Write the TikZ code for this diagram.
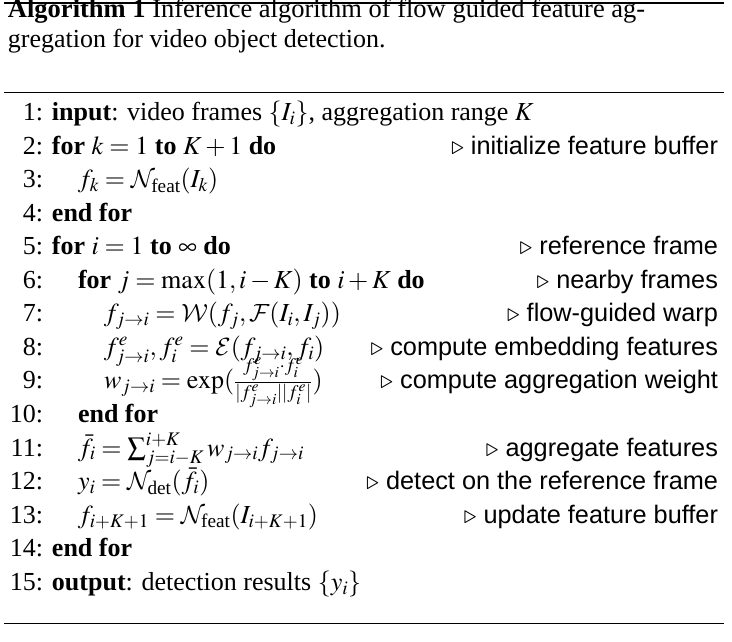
\documentclass[tikz,border=0pt]{standalone}
\usepackage{mathptmx}
\usepackage{amsmath}
\DeclareMathAlphabet{\mathcal}{OMS}{cmsy}{m}{n}
\usepackage[no-math]{fontspec}
\setmainfont{Liberation Serif}
\newfontfamily\cmtfont{Liberation Sans}
\begin{document}
\begin{tikzpicture}[x=1pt,y=-1pt,
  every node/.style={inner sep=0pt,outer sep=0pt,font=\fontsize{26}{30}\selectfont},
  ln/.style={anchor=base east},
  tx/.style={anchor=base west},
  cmt/.style={anchor=base east,font=\fontsize{25.3}{30}\cmtfont}]
\useasboundingbox (0,0) rectangle (732,641);
\draw[line width=1.6pt] (4,3) -- (724,3);
\draw[line width=0.8pt] (4,92) -- (724,92);
\draw[line width=0.8pt] (4,623) -- (724,623);
\node[tx,align=left] (cap) at (8,47) {\fontsize{26.5}{35}\selectfont\textbf{Algorithm 1} Inference algorithm of flow guided feature ag-\\gregation for video object detection.};
\foreach \i in {1,...,15}{\node[ln] (n\i) at (43,{87+33.55*\i}) {\i:};}
\def\Y#1{{87+33.55*#1}}
\node[tx] (t1) at (52,\Y1) {\textbf{input}: video frames $\{I_i\}$, aggregation range $K$};
\node[tx] (t2) at (52,\Y2) {\textbf{for} $k=1$ \textbf{to} $K+1$ \textbf{do}};
\node[cmt] (c2) at (718,\Y2) {$\triangleright$ initialize feature buffer};
\node[tx] (t3) at (78,\Y3) {$f_k=\mathcal{N}_{\text{feat}}(I_k)$};
\node[tx] (t4) at (52,\Y4) {\textbf{end for}};
\node[tx] (t5) at (52,\Y5) {\textbf{for} $i=1$ \textbf{to} $\infty$ \textbf{do}};
\node[cmt] (c5) at (718,\Y5) {$\triangleright$ reference frame};
\node[tx] (t6) at (78,\Y6) {\textbf{for} $j=\max(1,i-K)$ \textbf{to} $i+K$ \textbf{do}};
\node[cmt] (c6) at (718,\Y6) {$\triangleright$ nearby frames};
\node[tx] (t7) at (104,\Y7) {$f_{j\rightarrow i}=\mathcal{W}(f_j,\mathcal{F}(I_i,I_j))$};
\node[cmt] (c7) at (718,\Y7) {$\triangleright$ flow-guided warp};
\node[tx] (t8) at (104,\Y8) {$f^e_{j\rightarrow i},f^e_i=\mathcal{E}(f_{j\rightarrow i},f_i)$};
\node[cmt] (c8) at (718,\Y8) {$\triangleright$ compute embedding features};
\node[tx] (t9) at (104,\Y9) {$w_{j\rightarrow i}=\exp(\frac{f^e_{j\rightarrow i}\cdot f^e_i}{|f^e_{j\rightarrow i}||f^e_i|})$};
\node[cmt] (c9) at (718,\Y9) {$\triangleright$ compute aggregation weight};
\node[tx] (t10) at (78,\Y{10}) {\textbf{end for}};
\node[tx] (t11) at (78,\Y{11}) {$\bar{f}_i=\sum_{j=i-K}^{i+K}w_{j\rightarrow i}f_{j\rightarrow i}$};
\node[cmt] (c11) at (718,\Y{11}) {$\triangleright$ aggregate features};
\node[tx] (t12) at (78,\Y{12}) {$y_i=\mathcal{N}_{\text{det}}(\bar{f}_i)$};
\node[cmt] (c12) at (718,\Y{12}) {$\triangleright$ detect on the reference frame};
\node[tx] (t13) at (78,\Y{13}) {$f_{i+K+1}=\mathcal{N}_{\text{feat}}(I_{i+K+1})$};
\node[cmt] (c13) at (718,\Y{13}) {$\triangleright$ update feature buffer};
\node[tx] (t14) at (52,\Y{14}) {\textbf{end for}};
\node[tx] (t15) at (52,\Y{15}) {\textbf{output}: detection results $\{y_i\}$};
\end{tikzpicture}
\end{document}
